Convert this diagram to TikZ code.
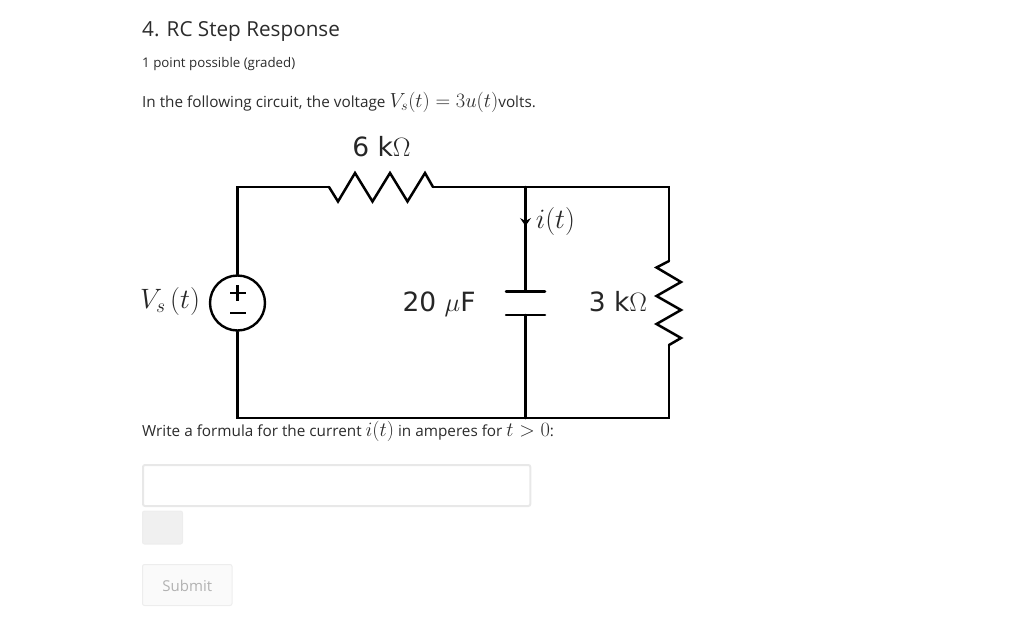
\documentclass[tikz,border=0pt]{standalone}
\usepackage{fix-cm}
\usepackage{fontspec}
\usetikzlibrary{arrows.meta}
\setmainfont{Open Sans}
\newfontfamily\cktfont{DejaVu Sans}
\definecolor{inkgray}{HTML}{2b2b2b}
\newcommand{\mth}[1]{{\fontsize{20.4}{19}\selectfont$#1$}}
\begin{document}
\begin{tikzpicture}[x=1pt, y=-1pt, line join=miter, line cap=round, >=stealth,
	wire/.style={line width=2.5pt, black},
	txt/.style={anchor=base west, inner sep=0pt, text=inkgray},
	cktlabel/.style={anchor=base, inner sep=0pt, text=black!85, font=\cktfont\fontsize{26.5}{30}\selectfont},
	mathlabel/.style={inner sep=0pt, text=black!85, font=\fontsize{28}{32}\selectfont},
	formbox/.style={anchor=north west, inner sep=0pt, rounded corners=2pt}]
	\useasboundingbox (0,0) rectangle (1024,624);
	%Text
	\node[txt, font=\fontsize{20.7}{26}\selectfont] (title) at (142,36) {4. RC Step Response};
	\node[txt, font=\fontsize{13.3}{16}\selectfont] (points) at (142,67) {1 point possible (graded)};
	\node[txt, font=\fontsize{15.3}{19}\selectfont] (intro) at (142,107) {In the following circuit, the voltage \mth{V_s(t)=3u(t)}volts.};
	\node[txt, font=\fontsize{15.3}{19}\selectfont] (question) at (142,436) {Write a formula for the current \mth{i(t)} in amperes for \mth{t>0}:};
	%Corners of the circuit
	\coordinate (tl) at (237.5,187);
	\coordinate (tm) at (525.5,187);
	\coordinate (tr) at (669,187);
	\coordinate (bl) at (237.5,418);
	\coordinate (bm) at (525.5,418);
	\coordinate (br) at (669,418);
	\coordinate (rsa) at (329,187);
	\coordinate (rsb) at (433,187);
	\coordinate (rpa) at (669,261);
	\coordinate (rpb) at (669,345);
	\coordinate (capa) at (525.5,291.5);
	\coordinate (capb) at (525.5,315);
	%Source
	\node[circle, draw, line width=2.4pt, minimum size=55pt, inner sep=0pt] (src) at (237.5,303) {};
	\draw[line width=2.3pt, line cap=butt] (230,292.7)--(245.5,292.7) (237.5,285)--(237.5,300.5);
	\draw[line width=2.3pt, line cap=butt] (230,312.7)--(245.5,312.7);
	%Wires
	\draw[wire] (src.north)--(tl)--(rsa);
	\draw[wire] (rsa)--(338,201.5)--(355,173)--(372.5,201.5)--(390,173)--(407.5,201.5)--(425,173)--(rsb);
	\draw[wire] (rsb)--(tm)--(tr)--(rpa);
	\draw[wire] (rpa)--(656.5,267.5)--(681,282)--(656.5,296)--(681,310)--(656.5,324)--(681,338)--(rpb);
	\draw[wire] (rpb)--(br)--(bl)--(src.south);
	\draw[wire] (tm)--(capa);
	\draw[wire] (capb)--(bm);
	\draw[wire] (506,291.5)--(545,291.5);
	\draw[wire] (506,315)--(545,315);
	\draw[line width=1pt, -{Stealth[length=8pt,width=11pt,inset=3pt]}] (525.5,212)--(525.5,226);
	%Labels
	\node[cktlabel] (lab6k) at (381.5,156) {6 k$\Omega$};
	\node[cktlabel] (lab20u) at (439,311) {20 $\mu$F};
	\node[cktlabel] (lab3k) at (618,311) {3 k$\Omega$};
	\node[mathlabel] (labvs) at (170,301) {$V_s\,(t)$};
	\node[mathlabel] (labi) at (555.5,221) {$i(t)$};
	%Form
	\node[formbox, draw=black!9, line width=2pt, minimum width=387.3pt, minimum height=41pt] (answer) at (142,464) {};
	\node[formbox, draw=black!7, fill=black!6, line width=1pt, minimum width=40pt, minimum height=33pt] (status) at (142,510.5) {};
	\node[formbox, draw=black!7, fill=black!2, line width=1pt, minimum width=89.5pt, minimum height=41pt] (submit) at (142,564) {};
	\node[inner sep=0pt, text=black!30, font=\fontsize{15}{18}\selectfont, yshift=-1pt] (submittxt) at (submit.center) {Submit};
\end{tikzpicture}
\end{document}
